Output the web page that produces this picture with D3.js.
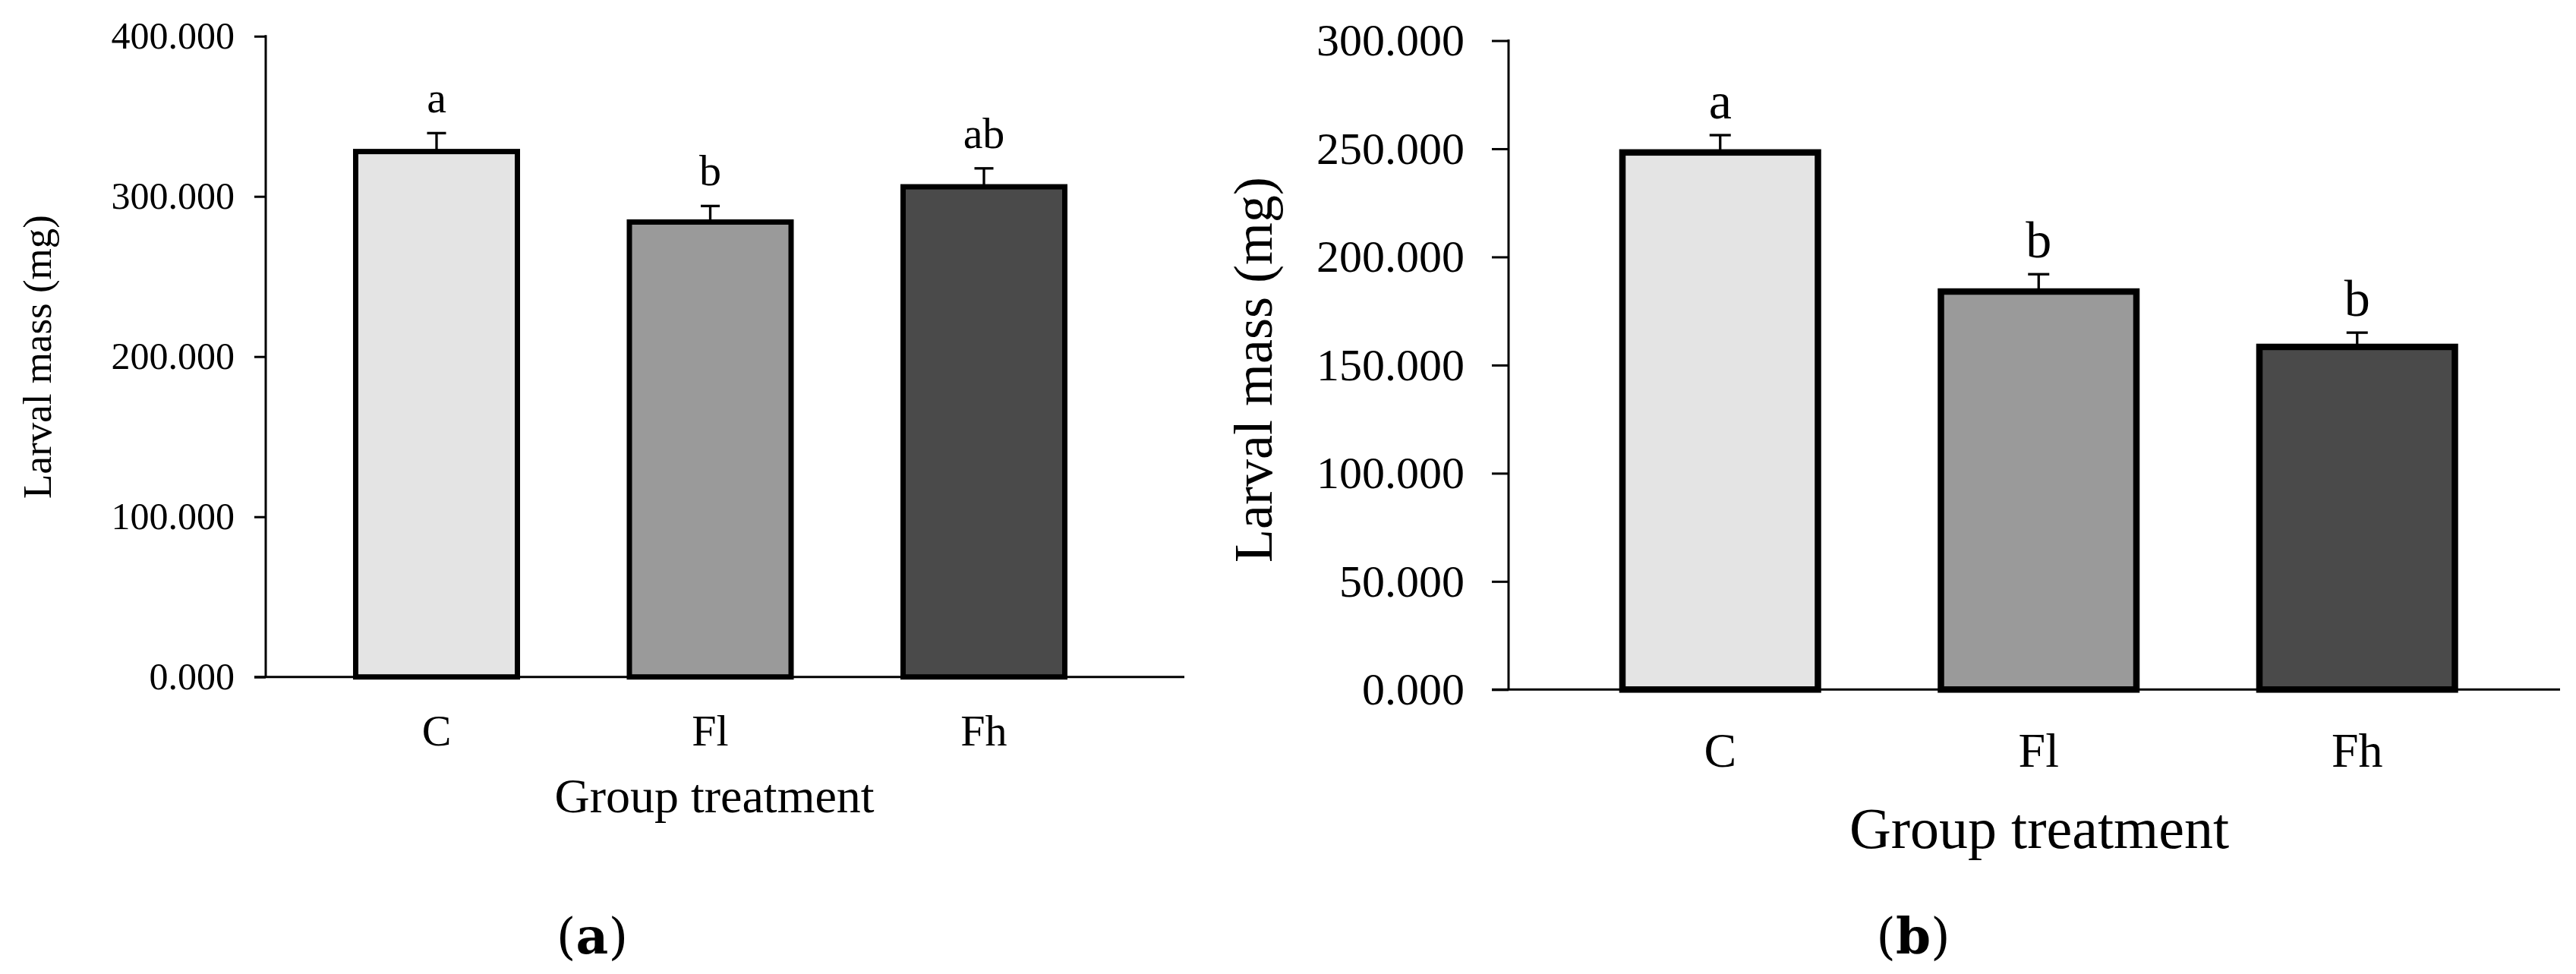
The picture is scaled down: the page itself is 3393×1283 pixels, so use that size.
<!DOCTYPE html>
<html lang="en">
<head>
<meta charset="utf-8">
<script src="https://d3js.org/d3.v7.min.js"></script>
<title>larval mass</title>
<style>
  body { margin: 0; background: #fff; }
  text { font-family: "Liberation Serif", "Times New Roman", serif; fill: #000; }
</style>
</head>
<body>
<script>
// data
var groups = ["C", "Fl", "Fh"];
var massA = [328, 284, 306];
var errA = [11.5, 10, 11.5];
var letterA = ["a", "b", "ab"];
var massB = [248.3, 184, 158.4];
var errB = [8, 8, 6.6];
var letterB = ["a", "b", "b"];
var ticksA = [0, 100, 200, 300, 400];
var ticksB = [0, 50, 100, 150, 200, 250, 300];
var fills = ["#e4e4e4", "#9a9a9a", "#4a4a4a"];

var W = 3393, H = 1283;
var svg = d3.select("body").append("svg").attr("width", W).attr("height", H);

// one panel, sizes passed in
function panel(cfg) {
  var g = svg.append("g");
  var y = d3.scaleLinear().domain([0, cfg.max]).range([cfg.base, cfg.top]);
  var x = d3.scalePoint().domain(groups).range(cfg.xr).padding(0.5);

  // y axis
  var yAxis = d3.axisLeft(y).tickValues(cfg.ticks)
      .tickSize(cfg.tick).tickPadding(cfg.pad)
      .tickFormat(d3.format(".3f"));
  var ga = g.append("g").attr("transform", "translate(" + cfg.ax + ",0)").call(yAxis);
  ga.select(".domain").remove();
  ga.selectAll(".tick line").attr("stroke", "#000").attr("stroke-width", 3);
  ga.selectAll(".tick text").style("font-size", cfg.tickFont + "px")
      .attr("font-family", null).attr("fill", "#000");
  g.append("line").attr("x1", cfg.ax).attr("x2", cfg.ax)
    .attr("y1", cfg.top - 1.5).attr("y2", cfg.base)
    .attr("stroke", "#000").attr("stroke-width", 3);

  // x baseline
  g.append("line").attr("x1", cfg.ax - cfg.tick).attr("x2", cfg.xEnd)
    .attr("y1", cfg.base).attr("y2", cfg.base)
    .attr("stroke", "#000").attr("stroke-width", 3);

  // bars
  g.selectAll(".bar").data(cfg.vals).enter().append("rect")
    .attr("class", "bar")
    .attr("x", function(d, i) { return x(groups[i]) - cfg.bw / 2; })
    .attr("y", function(d) { return y(d); })
    .attr("width", cfg.bw)
    .attr("height", function(d) { return y(0) - y(d); })
    .attr("fill", function(d, i) { return fills[i]; })
    .attr("stroke", "#000").attr("stroke-width", cfg.sw);

  // error bars (upper only)
  var eb = g.selectAll(".err").data(cfg.vals).enter().append("g");
  eb.append("line")
    .attr("x1", function(d, i) { return x(groups[i]); })
    .attr("x2", function(d, i) { return x(groups[i]); })
    .attr("y1", function(d) { return y(d); })
    .attr("y2", function(d, i) { return y(d + cfg.errs[i]); })
    .attr("stroke", "#000").attr("stroke-width", 3.3);
  eb.append("line")
    .attr("x1", function(d, i) { return x(groups[i]) - cfg.cap / 2; })
    .attr("x2", function(d, i) { return x(groups[i]) + cfg.cap / 2; })
    .attr("y1", function(d, i) { return y(d + cfg.errs[i]); })
    .attr("y2", function(d, i) { return y(d + cfg.errs[i]); })
    .attr("stroke", "#000").attr("stroke-width", 3.3);

  // significance letters
  g.selectAll(".sig").data(cfg.vals).enter().append("text")
    .attr("x", function(d, i) { return x(groups[i]); })
    .attr("y", function(d, i) { return y(d + cfg.errs[i]) - cfg.gap; })
    .attr("text-anchor", "middle")
    .style("font-size", cfg.sigFont + "px")
    .text(function(d, i) { return cfg.letters[i]; });

  // category labels
  g.selectAll(".cat").data(groups).enter().append("text")
    .attr("x", function(d) { return x(d); })
    .attr("y", cfg.catY)
    .attr("text-anchor", "middle")
    .style("font-size", cfg.catFont + "px")
    .text(function(d) { return d; });

  g.append("text").attr("x", cfg.xtX).attr("y", cfg.xtY)
    .attr("text-anchor", "middle").style("font-size", cfg.xtFont + "px")
    .text("Group treatment");

  g.append("text")
    .attr("transform", "translate(" + cfg.ytX + "," + cfg.ytY + ") rotate(-90)")
    .attr("text-anchor", "middle").style("font-size", cfg.ytFont + "px")
    .text("Larval mass (mg)");

  g.append("text").attr("x", cfg.capX).attr("y", 1256)
    .attr("text-anchor", "middle").style("font-size", "66px")
    .style("font-family", "'DejaVu Serif', serif")
    .html("(<tspan font-weight='bold'>" + cfg.tag + "</tspan>)");
}

panel({
  max: 400, base: 891.7, top: 47.7, ticks: ticksA, tick: 15, pad: 26,
  tickFont: 50, ax: 350, xr: [394.75, 1476.25], xEnd: 1560,
  vals: massA, errs: errA, letters: letterA, bw: 213, sw: 7, cap: 25,
  gap: 27, sigFont: 58, catY: 982, catFont: 58,
  xtX: 941, xtY: 1070, xtFont: 64, ytX: 67, ytY: 470, ytFont: 53,
  capX: 780, tag: "a"
});

panel({
  max: 300, base: 908.3, top: 53.5, ticks: ticksB, tick: 22, pad: 36,
  tickFont: 60, ax: 1987, xr: [2056, 3314.5], xEnd: 3372,
  vals: massB, errs: errB, letters: letterB, bw: 257.5, sw: 8.5, cap: 28,
  gap: 22, sigFont: 68, catY: 1010, catFont: 64,
  xtX: 2686, xtY: 1117, xtFont: 76, ytX: 1675, ytY: 487, ytFont: 72,
  capX: 2520, tag: "b"
});
</script>
</body>
</html>
